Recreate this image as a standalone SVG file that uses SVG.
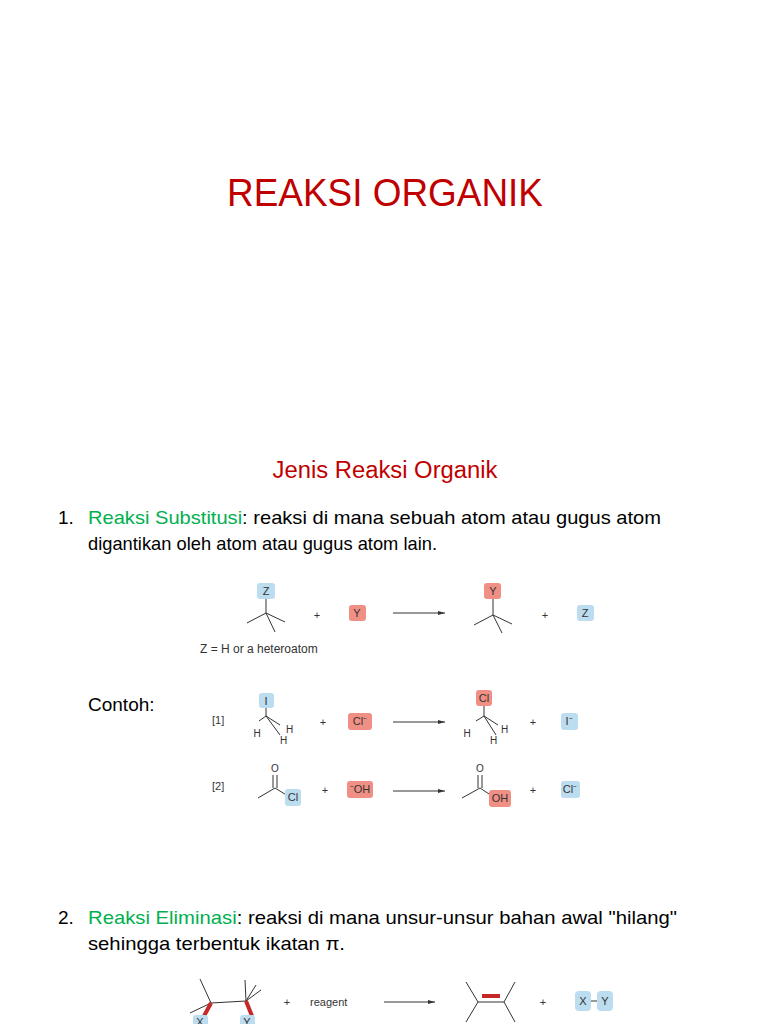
<svg xmlns="http://www.w3.org/2000/svg" width="768" height="1024" viewBox="0 0 768 1024">
<style>
.t{font-family:"Liberation Sans",Arial,sans-serif}
.b{font-size:19px;fill:#000}
.g{fill:#00b050}
.s{font-size:11px;fill:#333}
.bl{fill:#bcdcef}
.rd{fill:#f08f84}
.ln{stroke:#333;stroke-width:1;fill:none}
.rb{stroke:#c62828;stroke-width:4;fill:none}
.ar{stroke:#333;stroke-width:1;marker-end:url(#ah)}
</style>
<defs><marker id="ah" markerWidth="8" markerHeight="6" refX="7" refY="3" orient="auto"><path d="M0,1 L7,3 L0,5Z" fill="#333"/></marker></defs>
<rect width="768" height="1024" fill="#fff"/>
<text class="t" x="385" y="206" text-anchor="middle" font-size="38" fill="#c00000" textLength="316" lengthAdjust="spacingAndGlyphs">REAKSI ORGANIK</text>
<text class="t" x="385" y="478" text-anchor="middle" font-size="23" fill="#c00000" textLength="225" lengthAdjust="spacingAndGlyphs">Jenis Reaksi Organik</text>
<text class="t b" x="58" y="524">1.</text>
<text class="t b" x="88" y="524" textLength="573" lengthAdjust="spacingAndGlyphs"><tspan class="g">Reaksi Substitusi</tspan>: reaksi di mana sebuah atom atau gugus atom</text>
<text class="t b" x="88" y="550" textLength="349" lengthAdjust="spacingAndGlyphs">digantikan oleh atom atau gugus atom lain.</text>
<text class="t b" x="88" y="711">Contoh:</text>
<text class="t b" x="58" y="924">2.</text>
<text class="t b" x="88" y="924" textLength="589" lengthAdjust="spacingAndGlyphs"><tspan class="g">Reaksi Eliminasi</tspan>: reaksi di mana unsur-unsur bahan awal "hilang"</text>
<text class="t b" x="88" y="950" textLength="257" lengthAdjust="spacingAndGlyphs">sehingga terbentuk ikatan π.</text>

<g id="general">
<rect class="bl" x="257" y="583" width="18" height="16" rx="3"/><text class="t s" x="266" y="595" text-anchor="middle">Z</text>
<path class="ln" d="M266,599 V613 M266,613 L247,623 M266,613 L285,622 M266,613 L275,632"/>
<text class="t s" x="317" y="619" text-anchor="middle">+</text>
<rect class="rd" x="349" y="605" width="17" height="16" rx="3"/><text class="t s" x="357" y="617" text-anchor="middle">Y</text>
<rect class="rd" x="484" y="583" width="17" height="16" rx="3"/><text class="t s" x="493" y="595" text-anchor="middle">Y</text>
<path class="ln" d="M493,599 V615 M493,615 L474,625 M493,615 L512,624 M493,615 L502,633"/>
<text class="t s" x="545" y="619" text-anchor="middle">+</text>
<rect class="bl" x="577" y="605" width="17" height="16" rx="3"/><text class="t s" x="585" y="617" text-anchor="middle">Z</text>
<text class="t" x="200" y="653" font-size="12" fill="#333">Z = H or a heteroatom</text>
</g>

<g id="ex1">
<text class="t s" x="212" y="724">[1]</text>
<rect class="bl" x="259" y="693" width="15" height="15" rx="3"/><text class="t s" x="266" y="705" text-anchor="middle">I</text>
<path class="ln" d="M266,708 V716 M266,716 L259,721 M266,716 L280,725 M266,716 L280,735"/>
<text class="t" x="257" y="737" font-size="10" fill="#333" text-anchor="middle">H</text>
<text class="t" x="286" y="733" font-size="10" fill="#333">H</text>
<text class="t" x="280" y="744" font-size="10" fill="#333">H</text>
<text class="t s" x="323" y="726" text-anchor="middle">+</text>
<rect class="rd" x="348" y="713" width="24" height="17" rx="3"/><text class="t s" x="360" y="725" text-anchor="middle">Cl⁻</text>
<rect class="rd" x="476" y="690" width="16" height="16" rx="3"/><text class="t s" x="484" y="702" text-anchor="middle">Cl</text>
<path class="ln" d="M484,706 V716 M484,716 L476,721 M484,716 L498,725 M484,716 L496,735"/>
<text class="t" x="467" y="737" font-size="10" fill="#333" text-anchor="middle">H</text>
<text class="t" x="501" y="733" font-size="10" fill="#333">H</text>
<text class="t" x="490" y="744" font-size="10" fill="#333">H</text>
<text class="t s" x="533" y="726" text-anchor="middle">+</text>
<rect class="bl" x="561" y="713" width="17" height="17" rx="3"/><text class="t s" x="569" y="725" text-anchor="middle">I⁻</text>
</g>

<g id="ex2">
<text class="t s" x="212" y="790">[2]</text>
<text class="t" x="275" y="772" font-size="10" fill="#333" text-anchor="middle">O</text>
<path class="ln" d="M258,798 L275,788 L288,796 M273,775 V788 M277,775 V788"/>
<rect class="bl" x="285" y="789" width="16" height="17" rx="3"/><text class="t s" x="293" y="801" text-anchor="middle">Cl</text>
<text class="t s" x="325" y="794" text-anchor="middle">+</text>
<rect class="rd" x="347" y="781" width="26" height="17" rx="3"/><text class="t s" x="360" y="793" text-anchor="middle">⁻OH</text>
<text class="t" x="480" y="772" font-size="10" fill="#333" text-anchor="middle">O</text>
<path class="ln" d="M462,798 L480,788 L492,796 M478,775 V788 M482,775 V788"/>
<rect class="rd" x="489" y="790" width="22" height="17" rx="3"/><text class="t s" x="500" y="802" text-anchor="middle">OH</text>
<text class="t s" x="533" y="794" text-anchor="middle">+</text>
<rect class="bl" x="561" y="781" width="19" height="17" rx="3"/><text class="t s" x="570" y="793" text-anchor="middle">Cl⁻</text>
</g>

<g id="elim">
<path class="ln" d="M200,979 L211,1003 L246,1001 M211,1003 L190,1013 M246,1001 L245,980 M246,1001 L256,985 M246,1001 L261,990"/>
<path class="rb" d="M211,1003 L203,1018 M246,1001 L252,1016"/>
<rect class="bl" x="193" y="1015" width="15" height="14" rx="3"/><text class="t s" x="200" y="1026" text-anchor="middle">X</text>
<rect class="bl" x="240" y="1015" width="15" height="14" rx="3"/><text class="t s" x="247" y="1026" text-anchor="middle">Y</text>
<text class="t s" x="287" y="1006" text-anchor="middle">+</text>
<text class="t s" x="310" y="1006">reagent</text>
<path class="ln" d="M466,982 L478,1002 L466,1022 M515,982 L504,1002 L515,1022 M478,1002 H504"/>
<path class="rb" d="M482,996 H500"/>
<text class="t s" x="543" y="1006" text-anchor="middle">+</text>
<rect class="bl" x="575" y="991" width="16" height="20" rx="4"/><text class="t s" x="583" y="1005" text-anchor="middle">X</text>
<rect class="bl" x="597" y="991" width="16" height="20" rx="4"/><text class="t s" x="605" y="1005" text-anchor="middle">Y</text>
<path class="ln" d="M591,1001 H597"/>
</g>

<g id="connectors">
<line class="ar" x1="393" y1="613" x2="445" y2="613"/>
<line class="ar" x1="393" y1="722" x2="445" y2="722"/>
<line class="ar" x1="393" y1="791" x2="445" y2="791"/>
<line class="ar" x1="384" y1="1002" x2="435" y2="1002"/>
</g>
</svg>
